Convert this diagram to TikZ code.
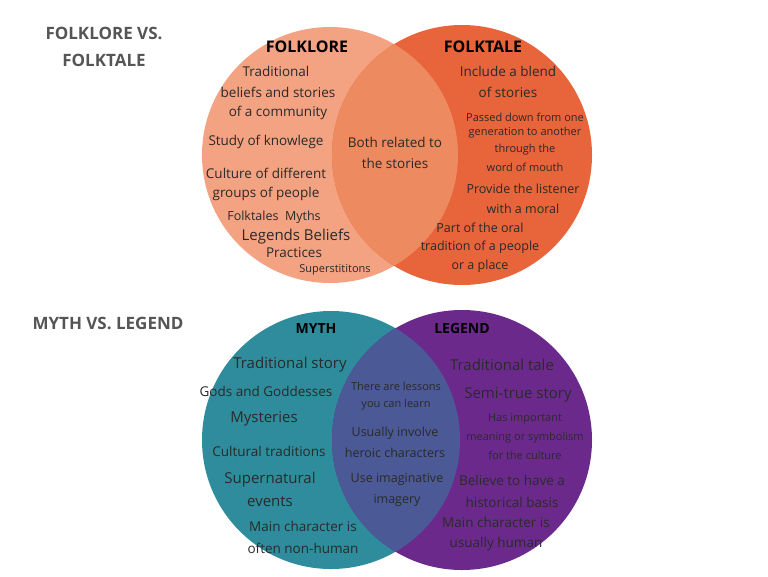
\documentclass[tikz,border=0pt]{standalone}
\usepackage{fontspec}
\setmainfont{Open Sans}
\definecolor{lore}{HTML}{F3A282}
\definecolor{tale}{HTML}{E8643A}
\definecolor{lt}{HTML}{EE8A60}
\definecolor{myth}{HTML}{2F8C9C}
\definecolor{leg}{HTML}{6B2A8B}
\definecolor{ml}{HTML}{4B5996}
\definecolor{tgray}{HTML}{555555}
\definecolor{ttx}{HTML}{2A2A2A}
\tikzset{
 t/.style={text=ttx,font=\fontsize{13.5}{15}\selectfont,inner sep=0pt},
 s/.style={text=ttx,font=\fontsize{11}{12}\selectfont,inner sep=0pt},
 hd/.style={text=black,font=\bfseries\fontsize{16}{18}\selectfont,inner sep=0pt},
 ttl/.style={text=tgray,font=\bfseries\fontsize{17}{19}\selectfont,inner sep=0pt}
}
\begin{document}
\begin{tikzpicture}[x=1pt,y=-1pt]
\useasboundingbox (0,0) rectangle (768,576);
\fill[white] (0,0) rectangle (768,576);
% top venn
\coordinate (A) at (330,155); \coordinate (B) at (462,155);
\fill[lore] (A) circle (128);
\fill[tale] (B) circle (130);
\begin{scope}\clip (A) circle (128); \fill[lt] (B) circle (130);\end{scope}
% bottom venn
\coordinate (C) at (331,440); \coordinate (D) at (462,440);
\fill[myth] (C) circle (129);
\fill[leg] (D) circle (130);
\begin{scope}\clip (C) circle (129); \fill[ml] (D) circle (130);\end{scope}
% titles
\node[ttl] (t1) at (104,33) {FOLKLORE VS.};
\node[ttl] (t2) at (104,60) {FOLKTALE};
\node[ttl] (t3) at (108,323) {MYTH VS. LEGEND};
\node[hd] (h1) at (307,47) {FOLKLORE};
\node[hd] (h2) at (483,47) {FOLKTALE};
\node[hd,font=\bfseries\fontsize{14}{16}\selectfont] (h3) at (316,328) {MYTH};
\node[hd,font=\bfseries\fontsize{14}{16}\selectfont] (h4) at (462,328) {LEGEND};
% folklore
\node[t] (a1) at (276,71) {Traditional};
\node[t] (a2) at (278,92) {beliefs and stories};
\node[t] (a3) at (278,113) {of a community};
\node[t] (a4) at (266,142) {Study of knowlege};
\node[t] (a5) at (266,173) {Culture of different};
\node[t] (a6) at (266,194) {groups of people};
\node[t,font=\fontsize{12.5}{14}\selectfont] (a7) at (274,217) {Folktales\ \ Myths};
\node[t,font=\fontsize{15}{16}\selectfont] (a8) at (296,237) {Legends Beliefs};
\node[t] (a9) at (294,253) {Practices};
\node[s] (a10) at (335,270) {Superstititons};
\node[t] (c1) at (395,142) {Both related to};
\node[t] (c2) at (395,163) {the stories};
% folktale
\node[t] (b1) at (508,71) {Include a blend};
\node[t] (b2) at (508,92) {of stories};
\node[s] (b3) at (525,117) {Passed down from one};
\node[s] (b4) at (525,133) {generation to another};
\node[s] (b5) at (525,150) {through the};
\node[s] (b6) at (525,167) {word of mouth};
\node[t,font=\fontsize{12.5}{14}\selectfont] (b7) at (523,189) {Provide the listener};
\node[t,font=\fontsize{12.5}{14}\selectfont] (b8) at (523,209) {with a moral};
\node[t,font=\fontsize{12.5}{14}\selectfont] (b9) at (480,228) {Part of the oral};
\node[t,font=\fontsize{12.5}{14}\selectfont] (b10) at (480,247) {tradition of a people};
\node[t,font=\fontsize{12.5}{14}\selectfont] (b11) at (480,266) {or a place};
% myth
\node[t,font=\fontsize{15}{16}\selectfont] (m1) at (290,365) {Traditional story};
\node[t] (m2) at (266,391) {Gods and Goddesses};
\node[t,font=\fontsize{15}{16}\selectfont] (m3) at (264,419) {Mysteries};
\node[t] (m4) at (269,451) {Cultural traditions};
\node[t,font=\fontsize{15}{16}\selectfont] (m5) at (270,480) {Supernatural};
\node[t,font=\fontsize{15}{16}\selectfont] (m6) at (270,502) {events};
\node[t] (m7) at (303,526) {Main character is};
\node[t] (m8) at (303,548) {often non-human};
% both
\node[s] (n1) at (396,386) {There are lessons};
\node[s] (n2) at (396,405) {you can learn};
\node[t,font=\fontsize{12.5}{14}\selectfont] (n3) at (395,433) {Usually involve};
\node[t,font=\fontsize{12.5}{14}\selectfont] (n4) at (395,453) {heroic characters};
\node[t,font=\fontsize{12.5}{14}\selectfont] (n5) at (397,479) {Use imaginative};
\node[t,font=\fontsize{12.5}{14}\selectfont] (n6) at (397,500) {imagery};
% legend
\node[t,font=\fontsize{15}{16}\selectfont] (l1) at (502,365) {Traditional tale};
\node[t,font=\fontsize{15}{16}\selectfont] (l2) at (518,395) {Semi-true story};
\node[s] (l3) at (525,419) {Has important};
\node[s] (l4) at (525,438) {meaning or symbolism};
\node[s] (l5) at (525,455) {for the culture};
\node[t] (l6) at (512,480) {Believe to have a};
\node[t] (l7) at (512,502) {historical basis};
\node[t] (l8) at (496,522) {Main character is};
\node[t] (l9) at (496,544) {usually human};
\end{tikzpicture}
\end{document}
